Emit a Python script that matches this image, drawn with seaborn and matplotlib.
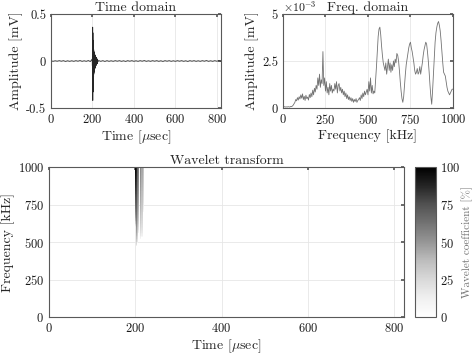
import numpy as np
import matplotlib
matplotlib.use("Agg")
import matplotlib.pyplot as plt
import seaborn as sns

# --- time domain signal (mV) ---
pre_time = np.arange(0, 200, 10)
pre_amp = [0.002, -0.003, 0.002, -0.002, 0.003, -0.002, 0.003, -0.004, 0.002, -0.003,
           0.002, -0.003, 0.003, -0.002, 0.004, -0.003, 0.002, -0.003, 0.004, -0.005]
burst_amp = [0.02, -0.05, 0.12, -0.25, 0.36, -0.42, 0.30, -0.33, 0.22, -0.26,
             0.18, -0.20, 0.15, -0.17, 0.12, -0.14, 0.10, -0.12, 0.09, -0.10,
             0.08, -0.09, 0.08, -0.08, 0.07, -0.08, 0.06, -0.07, 0.06, -0.06,
             0.05, -0.06, 0.05, -0.05, 0.04, -0.05, 0.04, -0.04, 0.03, -0.04,
             0.03, -0.03, 0.03, -0.03, 0.02, -0.03, 0.02, -0.02, 0.02, -0.02,
             0.015, -0.015, 0.01, -0.01]
burst_time = 199 + 0.5 * np.arange(len(burst_amp))
post_time = np.arange(230, 821, 10)
post_amp = [0.004, -0.003, 0.003, -0.004, 0.003, -0.003, 0.002, -0.003, 0.003, -0.002,
            0.003, -0.003, 0.002, -0.004, 0.003, -0.002, 0.003, -0.003, 0.002, -0.003,
            0.003, -0.002, 0.004, -0.003, 0.002, -0.003, 0.003, -0.002, 0.003, -0.003,
            0.002, -0.004, 0.003, -0.002, 0.003, -0.003, 0.002, -0.003, 0.003, -0.002,
            0.003, -0.003, 0.002, -0.004, 0.003, -0.002, 0.003, -0.003, 0.002, -0.003,
            0.003, -0.002, 0.004, -0.003, 0.002, -0.003, 0.003, -0.002, 0.003, -0.003]

# --- spectrum (x1e-3 mV), every 5 kHz ---
freq_khz = np.arange(0, 1001, 5)
spec_e3 = [0.06, 0.05, 0.07, 0.05, 0.06, 0.05, 0.07, 0.06, 0.05, 0.08, 0.07, 0.10,
           0.15, 0.22, 0.30, 0.45, 0.38, 0.55, 0.42, 0.60,
           0.48, 0.70, 0.52, 0.75, 0.45, 0.62, 0.40, 0.68, 0.50, 0.58,
           0.42, 0.72, 0.55, 0.80, 0.60, 0.95, 0.70, 1.05, 0.85, 1.20,
           1.0, 1.6, 1.2, 1.8, 1.1, 1.5, 1.3, 3.0,
           1.2, 1.6, 0.9, 1.4, 0.8, 1.1, 0.7, 1.3, 0.9, 1.2, 0.8, 1.0,
           0.9, 1.3, 1.0, 1.4, 0.8, 1.2, 1.3, 0.9, 1.1, 0.8,
           1.0, 0.7, 0.9, 0.6, 0.8, 0.5, 0.7, 0.45, 0.6, 0.4,
           0.55, 0.35, 0.5, 0.3, 0.45, 0.35, 0.5, 0.3, 0.4, 0.45,
           0.55, 0.4, 0.7, 0.5, 0.8, 0.6, 0.9, 0.7, 0.85, 1.0,
           0.7, 1.4, 0.9, 1.6, 0.8, 1.2, 0.75, 0.9, 0.8, 1.5,
           2.2, 3.0, 3.8, 4.2, 4.3, 3.9, 3.3, 2.8, 2.4, 2.2,
           2.0, 2.4, 1.8, 2.2, 2.6, 2.0, 2.4, 1.9, 2.3, 2.0, 2.5, 2.2, 2.6, 2.4, 2.9, 2.8,
           2.5, 2.0, 1.4, 0.9, 0.5, 0.3, 0.6, 1.2, 1.8, 2.3, 2.6, 2.9, 3.2, 3.4,
           3.5, 3.2, 3.0, 2.7, 2.4, 2.0, 1.8, 1.9, 2.1, 1.8,
           1.9, 2.2, 1.8, 2.1, 2.4, 2.8, 3.1, 3.3, 3.5, 3.4,
           3.0, 2.5, 1.9, 1.2, 0.6, 0.2, 0.9, 1.8, 2.7, 3.5,
           4.0, 4.3, 4.5, 4.6, 4.4, 4.1, 3.6, 3.0, 2.4, 1.9, 1.8, 1.7,
           1.4, 1.1, 0.9, 0.8, 0.7, 0.8, 0.9, 1.0, 1.0]

# --- wavelet ridges: time (usec), lowest frequency (kHz), peak coefficient (%) ---
streak_time = [200.5, 202.5, 204.5, 208.5, 211.5, 215.5, 218.5]
streak_low = [600, 470, 490, 560, 520, 530, 700]
streak_peak = [100, 90, 70, 60, 55, 45, 35]

sns.set_theme(style="white")
plt.rcParams.update({
    "font.family": ["cmr10", "DejaVu Serif"],
    "mathtext.fontset": "cm",
    "axes.formatter.use_mathtext": True,
    "axes.unicode_minus": False,
    "axes.edgecolor": "0.35",
    "axes.linewidth": 0.8,
    "xtick.direction": "in",
    "ytick.direction": "in",
    "xtick.top": True,
    "ytick.right": True,
    "xtick.major.size": 2.5,
    "ytick.major.size": 2.5,
    "xtick.color": "0.35",
    "ytick.color": "0.35",
    "xtick.labelcolor": "0.1",
    "ytick.labelcolor": "0.1",
    "xtick.labelsize": 9,
    "ytick.labelsize": 9,
    "axes.labelsize": 10,
    "axes.titlesize": 10,
    "axes.titlepad": 2,
    "axes.labelpad": 2,
    "grid.color": "0.9",
    "grid.linewidth": 0.6,
})

fig = plt.figure(figsize=(4.74, 3.55), dpi=100)
ax1 = fig.add_axes([0.1076, 0.6958, 0.3586, 0.2648])
ax2 = fig.add_axes([0.597, 0.6958, 0.3586, 0.2648])
ax3 = fig.add_axes([0.1034, 0.107, 0.749, 0.4225])
cax = fig.add_axes([0.8755, 0.107, 0.0443, 0.4225])

# time domain
t_all = np.concatenate([pre_time, burst_time, post_time])
a_all = np.concatenate([pre_amp, burst_amp, post_amp])
sns.lineplot(x=t_all, y=a_all, ax=ax1, color="0.15", lw=0.6, estimator=None, sort=False)
ax1.set_xlim(0, 820)
ax1.set_ylim(-0.5, 0.5)
ax1.set_xticks([0, 200, 400, 600, 800])
ax1.set_yticks([-0.5, 0, 0.5])
ax1.set_yticklabels(["-0.5", "0", "0.5"])
ax1.grid(True)
ax1.set_title("Time domain")
ax1.set_xlabel(r"Time [$\mu$sec]")
ax1.set_ylabel("Amplitude [mV]")

# frequency domain
spec = np.array(spec_e3) * 1e-3
sns.lineplot(x=freq_khz, y=spec, ax=ax2, color="0.45", lw=0.6, estimator=None, sort=False)
ax2.set_xlim(0, 1000)
ax2.set_ylim(0, 5e-3)
ax2.set_xticks([0, 250, 500, 750, 1000])
ax2.set_yticks([0, 2.5e-3, 5e-3])
ax2.set_yticklabels(["0", "2.5", "5"])
ax2.grid(True)
ax2.set_title("Freq. domain")
ax2.set_xlabel("Frequency [kHz]")
ax2.set_ylabel("Amplitude [mV]")
ax2.text(0.0, 1.0, r"$\times10^{-3}$", transform=ax2.transAxes, fontsize=8.5,
         ha="left", va="bottom", color="0.1")

# wavelet scalogram
t_grid = np.arange(0, 821, 0.5)
f_grid = np.arange(0, 1001, 5.0)
coef = np.zeros((len(f_grid), len(t_grid)))
for tc, lo, pk in zip(streak_time, streak_low, streak_peak):
    cols = np.abs(t_grid - tc) <= 1.2
    rel = np.clip((f_grid - lo) / (1000 - lo), 0, 1) ** 0.4
    coef[:, cols] = np.maximum(coef[:, cols], (pk * rel)[:, None])
coef = np.ma.masked_less_equal(coef, 0.5)
ax3.grid(True, zorder=0)
mesh = ax3.pcolormesh(t_grid, f_grid, coef, cmap="Greys", vmin=0, vmax=100,
                      shading="nearest", zorder=1)
ax3.set_xlim(0, 823)
ax3.set_ylim(0, 1000)
ax3.set_xticks([0, 200, 400, 600, 800])
ax3.set_yticks([0, 250, 500, 750, 1000])
ax3.set_title("Wavelet transform")
ax3.set_xlabel(r"Time [$\mu$sec]")
ax3.set_ylabel("Frequency [kHz]")

cb = fig.colorbar(mesh, cax=cax)
cb.set_ticks([0, 25, 50, 75, 100])
cb.outline.set_linewidth(0.8)
cb.outline.set_edgecolor("0.35")
cax.tick_params(direction="in", length=0, labelsize=9, pad=3)
cb.set_label("Wavelet coefficient [%]", color="0.45", fontsize=8)
cax.yaxis.set_label_coords(2.2, 0.5)

fig.savefig("out.png", dpi=100)
